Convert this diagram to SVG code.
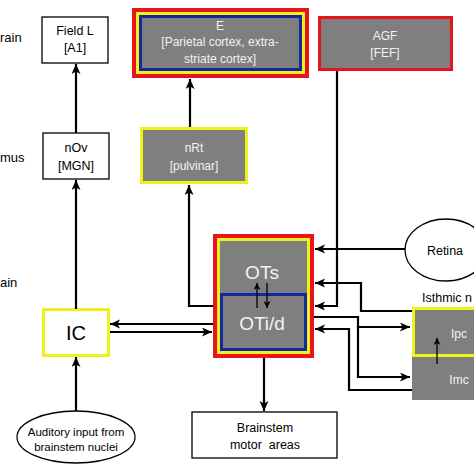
<svg xmlns="http://www.w3.org/2000/svg" width="474" height="474" viewBox="0 0 474 474">
<defs>
<marker id="ah" markerUnits="userSpaceOnUse" markerWidth="11" markerHeight="10" refX="10" refY="4.5" orient="auto">
<path d="M0,0 L10,4.5 L0,9 L2.5,4.5 z" fill="#000"/>
</marker>
<marker id="ahs" markerUnits="userSpaceOnUse" markerWidth="8" markerHeight="8" refX="7" refY="3.5" orient="auto">
<path d="M0,0 L7,3.5 L0,7 L2,3.5 z" fill="#000"/>
</marker>
<style>
text{font-family:"Liberation Sans",Arial,sans-serif;text-anchor:middle}
.bk{fill:#000;font-size:12.5px}
.wt{fill:#f2f2f2;font-size:12px}
.lbl{fill:#000;font-size:13px;text-anchor:start}
.box{fill:#fff;stroke:#000;stroke-width:1.3}
.grey{fill:#7f7f7f}
.red{fill:#e8141c}
.yel{fill:#eef21a}
.blue{fill:none;stroke:#1428a0;stroke-width:3}
.c{fill:none;stroke:#000;stroke-width:2.2;marker-end:url(#ah)}
.cn{fill:none;stroke:#000;stroke-width:2.2}
.cs{fill:none;stroke:#000;stroke-width:1.3;marker-end:url(#ahs)}
</style>
</defs>
<rect width="474" height="474" fill="#fff"/>

<text class="lbl" x="0" y="42">rain</text>
<text class="lbl" x="0" y="162">mus</text>
<text class="lbl" x="0" y="287">ain</text>

<g id="fieldL">
<rect class="box" x="42" y="17" width="66" height="46"/>
<text class="bk" x="75" y="35">Field L</text>
<text class="bk" x="75" y="52">[A1]</text>
</g>

<g id="nOv">
<rect class="box" x="43" y="133" width="66" height="46"/>
<text class="bk" x="76" y="152">nOv</text>
<text class="bk" x="76" y="170">[MGN]</text>
</g>

<g id="E">
<rect class="red" x="132" y="8" width="177" height="70"/>
<rect class="yel" x="136" y="12" width="169" height="62"/>
<rect class="grey" x="140" y="16" width="161" height="54"/>
<rect class="blue" x="140.5" y="16.5" width="160" height="53"/>
<text class="wt" x="220" y="30">E</text>
<text class="wt" x="220" y="46">[Parietal cortex, extra-</text>
<text class="wt" x="220" y="63">striate cortex]</text>
</g>

<g id="AGF">
<rect class="red" x="318" y="16" width="135" height="55"/>
<rect class="grey" x="321" y="19" width="129" height="49"/>
<text class="wt" x="385" y="40">AGF</text>
<text class="wt" x="385" y="57">[FEF]</text>
</g>

<g id="nRt">
<rect class="yel" x="140" y="127" width="108" height="57"/>
<rect class="grey" x="143" y="130" width="102" height="51"/>
<text class="wt" x="194" y="152">nRt</text>
<text class="wt" x="194" y="170">[pulvinar]</text>
</g>

<g id="OT">
<rect class="red" x="213" y="234" width="101" height="124"/>
<rect class="yel" x="217" y="238" width="93" height="116"/>
<rect class="grey" x="220" y="241" width="87" height="110"/>
<rect class="blue" x="221.5" y="294.5" width="84" height="55"/>
<text x="262" y="279" style="fill:#f2f2f2;font-size:19px">OTs</text>
<text x="262" y="330" style="fill:#f2f2f2;font-size:19px">OTi/d</text>
<path class="cs" d="M257,308 L257,283"/>
<path class="cs" d="M267,283 L267,308"/>
</g>

<g id="IC">
<rect x="43.5" y="309.5" width="65" height="46" fill="#fff" stroke="#eef21a" stroke-width="3"/>
<text x="76" y="340" style="fill:#000;font-size:20px">IC</text>
</g>

<g id="Retina">
<ellipse cx="446" cy="250" rx="41" ry="31" fill="#fff" stroke="#000" stroke-width="1.3"/>
<text class="bk" x="445" y="255">Retina</text>
</g>

<g id="Isthmic">
<text class="bk" x="422" y="302" style="text-anchor:start">Isthmic n</text>
<rect class="grey" x="412" y="307" width="62" height="93"/>
<rect x="413.5" y="308.5" width="62" height="47" fill="#7f7f7f" stroke="#eef21a" stroke-width="3"/>
<text class="wt" x="459" y="338">Ipc</text>
<text class="wt" x="459" y="384">Imc</text>
<path class="cs" d="M437,364 L437,338"/>
</g>

<g id="brainstem">
<rect class="box" x="192" y="412" width="145" height="46"/>
<text class="bk" x="265" y="432">Brainstem</text>
<text class="bk" x="265" y="449" xml:space="preserve">motor  areas</text>
</g>

<g id="auditory">
<ellipse cx="76" cy="437" rx="59" ry="26" fill="#fff" stroke="#000" stroke-width="1.3"/>
<text x="76" y="436" style="fill:#000;font-size:11.5px">Auditory input from</text>
<text x="76" y="451" style="fill:#000;font-size:11.5px">brainstem nuclei</text>
</g>

<g id="connectors">
<path class="c" d="M76,309 L76,180"/>
<path class="c" d="M76,133 L76,64"/>
<path class="c" d="M190,127 L190,79"/>
<path class="c" d="M213,306 L189,306 L189,185"/>
<path class="c" d="M337,71 L337,306 L315,306"/>
<path class="c" d="M405,249 L315,249"/>
<path class="c" d="M412,311 L361,311 L361,283 L315,283"/>
<path class="c" d="M314,317 L358,317 L358,327 L410,327"/>
<path class="c" d="M358,327 L358,377 L410,377"/>
<path class="c" d="M412,390 L349,390 L349,329 L315,329"/>
<path class="c" d="M213,324 L110,324"/>
<path class="c" d="M110,332 L212,332"/>
<path class="c" d="M264,358 L264,411"/>
<path class="c" d="M76,411 L76,357"/>
</g>
</svg>
